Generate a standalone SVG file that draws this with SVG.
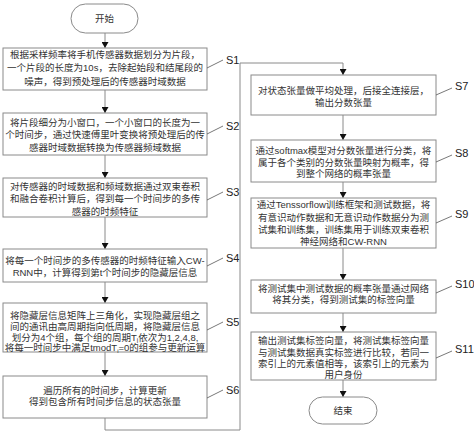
<svg xmlns="http://www.w3.org/2000/svg" width="474" height="434" viewBox="0 0 474 434">
<style>
.box{fill:#fff;stroke:#8a8a8a;stroke-width:1}
.t{font-family:"Liberation Sans","Noto Sans CJK SC",sans-serif;font-size:9.5px;fill:#333;text-anchor:middle}
.lab{font-family:"Liberation Sans",Arial,sans-serif;font-size:11px;fill:#222}
.ln{fill:none;stroke:#8a8a8a;stroke-width:1}
.ld{fill:none;stroke:#555;stroke-width:0.8}
</style>
<defs>
<marker id="ah" markerWidth="7" markerHeight="7" refX="6" refY="3.5" orient="auto" markerUnits="userSpaceOnUse">
<path d="M0,0 L6,3.5 L0,7 Z" fill="#111"/>
</marker>
</defs>
<g id="connectors">
<path class="ln" d="M105,33 V48" marker-end="url(#ah)"/>
<path class="ln" d="M105,90 V113" marker-end="url(#ah)"/>
<path class="ln" d="M105,155 V178" marker-end="url(#ah)"/>
<path class="ln" d="M105,217 V249" marker-end="url(#ah)"/>
<path class="ln" d="M105,282 V303" marker-end="url(#ah)"/>
<path class="ln" d="M105,352 V376" marker-end="url(#ah)"/>
<path class="ln" d="M105,418 V430 H240 V63 H343 V75" marker-end="url(#ah)"/>
<path class="ln" d="M343,115 V140" marker-end="url(#ah)"/>
<path class="ln" d="M343,182 V198" marker-end="url(#ah)"/>
<path class="ln" d="M343,248 V280" marker-end="url(#ah)"/>
<path class="ln" d="M343,313 V332" marker-end="url(#ah)"/>
<path class="ln" d="M343,380 V397" marker-end="url(#ah)"/>
</g>
<g id="start">
<rect class="box" x="71" y="4" width="67" height="29" rx="14.5"/>
<text class="t" x="104.5" y="22">开始</text>
</g>
<g id="S1">
<rect class="box" x="3" y="48" width="204" height="42"/>
<text class="t" x="105" y="57.5">根据采样频率将手机传感器数据划分为片段，</text>
<text class="t" x="105" y="71">一个片段的长度为10s，去除起始段和结尾段的</text>
<text class="t" x="105" y="84.5">噪声，得到预处理后的传感器时域数据</text>
<path class="ld" d="M207,68 L223,60"/>
<text class="lab" x="226" y="64">S1</text>
</g>
<g id="S2">
<rect class="box" x="3" y="113" width="204" height="42"/>
<text class="t" x="105" y="125.5">将片段细分为小窗口，一个小窗口的长度为一</text>
<text class="t" x="105" y="137.5">个时间步，通过快速傅里叶变换将预处理后的传</text>
<text class="t" x="105" y="150.5">感器时域数据转换为传感器频域数据</text>
<path class="ld" d="M207,134 L223,126"/>
<text class="lab" x="226" y="130">S2</text>
</g>
<g id="S3">
<rect class="box" x="3" y="178" width="204" height="39"/>
<text class="t" x="105" y="189.5">对传感器的时域数据和频域数据通过双束卷积</text>
<text class="t" x="105" y="202">和融合卷积计算后，得到每一个时间步的多传</text>
<text class="t" x="105" y="214.5">感器的时频特征</text>
<path class="ld" d="M207,200 L223,192"/>
<text class="lab" x="226" y="196">S3</text>
</g>
<g id="S4">
<rect class="box" x="3" y="249" width="204" height="33"/>
<text class="t" x="105" y="263.5">将每一个时间步的多传感器的时频特征输入CW-</text>
<text class="t" x="105" y="275.5">RNN中，计算得到第t个时间步的隐藏层信息</text>
<path class="ld" d="M207,266 L223,258"/>
<text class="lab" x="226" y="262">S4</text>
</g>
<g id="S5">
<rect class="box" x="3" y="303" width="204" height="49"/>
<text class="t" x="105" y="318.5">将隐藏层信息矩阵上三角化，实现隐藏层组之</text>
<text class="t" x="105" y="329.5">间的通讯由高周期指向低周期，将隐藏层信息</text>
<text class="t" x="105" y="340.5">划分为4个组，每个组的周期T<tspan font-size="6.5" dy="2">i</tspan><tspan dy="-2">依次为1,2,4,8,</tspan></text>
<text class="t" x="105" y="351" font-size="9">将每一时间步中满足tmodT<tspan font-size="6" dy="2">i</tspan><tspan dy="-2">=0的组参与更新运算</tspan></text>
<path class="ld" d="M207,330 L223,322"/>
<text class="lab" x="226" y="326">S5</text>
</g>
<g id="S6">
<rect class="box" x="3" y="376" width="204" height="42"/>
<text class="t" x="105" y="393.5">遍历所有的时间步，计算更新</text>
<text class="t" x="105" y="405">得到包含所有时间步信息的状态张量</text>
<path class="ld" d="M207,398 L223,390"/>
<text class="lab" x="226" y="394">S6</text>
</g>
<g id="S7">
<rect class="box" x="251" y="75" width="185" height="40"/>
<text class="t" x="343.5" y="93.5">对状态张量做平均处理，后接全连接层，</text>
<text class="t" x="343.5" y="105.5">输出分数张量</text>
<path class="ld" d="M436,95 L452,88"/>
<text class="lab" x="455" y="90">S7</text>
</g>
<g id="S8">
<rect class="box" x="251" y="140" width="185" height="42"/>
<text class="t" x="343.5" y="153.5">通过softmax模型对分数张量进行分类，将</text>
<text class="t" x="343.5" y="165.5">属于各个类别的分数张量映射为概率，得</text>
<text class="t" x="343.5" y="177">到整个网络的概率张量</text>
<path class="ld" d="M436,162 L452,155"/>
<text class="lab" x="455" y="157">S8</text>
</g>
<g id="S9">
<rect class="box" x="251" y="198" width="185" height="50"/>
<text class="t" x="343.5" y="207.5">通过Tenssorflow训练框架和测试数据，将</text>
<text class="t" x="343.5" y="220.5">有意识动作数据和无意识动作数据分为测</text>
<text class="t" x="343.5" y="232.5">试集和训练集，训练集用于训练双束卷积</text>
<text class="t" x="343.5" y="244.5">神经网络和CW-RNN</text>
<path class="ld" d="M436,223 L452,216"/>
<text class="lab" x="455" y="218">S9</text>
</g>
<g id="S10">
<rect class="box" x="251" y="280" width="185" height="33"/>
<text class="t" x="343.5" y="291.5">将测试集中测试数据的概率张量通过网络</text>
<text class="t" x="343.5" y="302.5">将其分类，得到测试集的标签向量</text>
<path class="ld" d="M436,293 L452,286"/>
<text class="lab" x="455" y="288">S10</text>
</g>
<g id="S11">
<rect class="box" x="251" y="332" width="185" height="48"/>
<text class="t" x="343.5" y="343.5">输出测试集标签向量，将测试集标签向量</text>
<text class="t" x="343.5" y="355.5">与测试集数据真实标签进行比较，若同一</text>
<text class="t" x="343.5" y="366.5">索引上的元素值相等，该索引上的元素为</text>
<text class="t" x="343.5" y="378">用户身份</text>
<path class="ld" d="M436,358 L452,351"/>
<text class="lab" x="455" y="353">S11</text>
</g>
<g id="end">
<rect class="box" x="309" y="397" width="68" height="27" rx="13.5"/>
<text class="t" x="343" y="414">结束</text>
</g>
</svg>
